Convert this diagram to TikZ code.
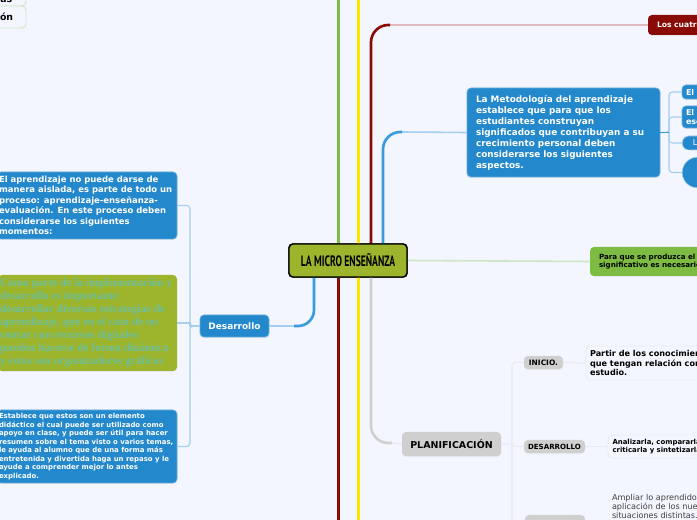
\documentclass[tikz,border=0pt]{standalone}
\usepackage{fontspec}
\setmainfont{DejaVu Sans}
\newfontfamily\titlef[FakeStretch=0.64]{PT Sans}
\newfontfamily\timesf{Liberation Serif}
\usetikzlibrary{shadows}
\definecolor{bgc}{HTML}{F3F6FF}
\definecolor{blueb}{HTML}{2388CC}
\definecolor{bluel}{HTML}{A5CFEE}
\definecolor{bluem}{HTML}{3A9BDC}
\definecolor{oliveb}{HTML}{9DB52C}
\definecolor{redb}{HTML}{8A0B05}
\definecolor{redl}{HTML}{E0B9BF}
\definecolor{greenb}{HTML}{7DBB42}
\definecolor{greenl}{HTML}{CFE6C4}
\definecolor{greyb}{HTML}{CFCFCF}
\definecolor{greyl}{HTML}{E8EBF6}
\definecolor{yell}{HTML}{FFE600}
\definecolor{tealt}{HTML}{6DBE9C}
\tikzset{
  box/.style={rectangle,rounded corners=3pt,inner ysep=0pt,align=flush left,font=\bfseries},
  mid/.style={align=flush center},
  soft/.style={drop shadow={opacity=.12,shadow xshift=0pt,shadow yshift=-.8pt}},
  bluebox/.style={box,soft,fill=blueb,draw=blueb!70!white,line width=.5pt,text=white},
  olivebox/.style={box,soft,fill=oliveb,text=tealt},
  redbox/.style={box,soft,fill=redb,text=white},
  greenbox/.style={box,soft,fill=greenb,text=black},
  greybox/.style={box,soft,fill=greyb,text=black},
  whitebox/.style={box,fill=bgc,draw=greyl,line width=.7pt,text=black},
  paleleaf/.style={box,fill=bgc,draw=greenl,line width=.7pt,text=black},
  plainbox/.style={box,text=black!75,font=\normalfont},
  rootbox/.style={box,fill=oliveb,draw=black,line width=1.1pt,text=black,mid},
  trunk/.style={line width=2pt},
  twig/.style={line width=.9pt,rounded corners=2.5pt},
}
% style, name, x1, y1, x2, y2, padding, text (pixels of the reference)
\newcommand\pxbox[8]{\node[#1,minimum width={(#5-#3)*0.75pt},minimum height={(#6-#4)*0.75pt},
  text width={(#5-#3-2*#7)*0.75pt},inner xsep={#7*0.75pt}] (#2) at ({(#3+#5)/2},{(#4+#6)/2}) {#8\par};}
\begin{document}
\begin{tikzpicture}[x=0.75pt,y=-0.75pt]
\useasboundingbox (0,0) rectangle (697,520);
\clip (0,0) rectangle (697,520);
\fill[bgc] (0,0) rectangle (697,520);

% named free points of the trunks
\coordinate (tg) at (338.5,0);
\coordinate (tr) at (338.5,520);
\coordinate (ty) at (358.5,0);
\coordinate (tyb) at (358.5,520);
\coordinate (bdes) at (190,0);
\coordinate (bmet) at (669,0);
\coordinate (bplan) at (512,0);
\coordinate (bend) at (512,520);

% nodes
\pxbox{rootbox}{root}{289}{244}{407}{277}{1}{\titlef\fontsize{11.3}{13}\selectfont LA MICRO ENSEÑANZA}
\pxbox{bluebox,mid}{des}{200}{315}{269}{337}{1}{\fontsize{6.7}{8}\selectfont Desarrollo}
\pxbox{bluebox}{la}{-3}{172}{177}{239}{2}{\fontsize{6.35}{7.9}\selectfont El aprendizaje no puede darse de\\manera aislada, es parte de todo un\\proceso: aprendizaje-enseñanza-\\evaluación. En este proceso deben\\considerarse los siguientes\\momentos:}
\pxbox{olivebox}{lb}{-2}{275}{177}{371}{2}{\timesf\fontsize{8.5}{9.75}\selectfont Como parte de la implementación y\\desarrollo es importante\\desarrollar diversas estrategias de\\aprendizaje, que en el caso de no\\contar con recursos digitales\\pueden hacerse de forma dinámica\\y estos son organizadores gráficos}
\pxbox{bluebox}{lc}{-3}{410}{177}{483}{2}{\fontsize{5.2}{6.42}\selectfont Establece que estos son un elemento\\didáctico el cual puede ser utilizado como\\apoyo en clase, y puede ser útil para hacer\\resumen sobre el tema visto o varios temas,\\le ayuda al alumno que de una forma más\\entretenida y divertida haga un repaso y le\\ayude a comprender mejor lo antes\\explicado.}
\pxbox{paleleaf}{ta}{-20}{-15}{26}{6}{1}{}
\pxbox{paleleaf}{tb}{-20}{6}{26}{28}{20}{\fontsize{7}{8}\selectfont ón}
\node[font=\bfseries\fontsize{7}{8}\selectfont,anchor=base west,inner sep=0pt] (tc) at (0,3) {as};

\pxbox{redbox}{cuatro}{648}{15}{730}{35}{9}{\fontsize{5.7}{7}\selectfont Los cuatro}
\pxbox{bluebox}{met}{467}{88}{660}{177}{9}{\fontsize{6.65}{8.25}\selectfont La Metodología del aprendizaje\\establece que para que los\\estudiantes construyan\\significados que contribuyan a su\\crecimiento personal deben\\considerarse los siguientes\\aspectos.}
\pxbox{bluebox}{ma}{682}{85}{730}{99}{4}{\fontsize{6}{7}\selectfont El l}
\pxbox{bluebox}{mb}{682}{106}{730}{128}{4}{\fontsize{6}{6.6}\selectfont El e\\esc}
\node[rectangle,rounded corners=5pt,fill=blueb,draw=bluel,line width=.4pt,minimum width=36pt,minimum height=10.5pt,inner sep=0pt,anchor=west,text=white,font=\fontsize{6}{7}\selectfont,text width=30pt,align=flush left] (mc) at (682,143) {\hspace{5pt}L\par};
\node[circle,fill=blueb,draw=bluel,line width=.4pt,minimum size=23pt,inner sep=0pt] (md) at (697.5,172.5) {};
\pxbox{greenbox}{sig}{590}{247}{730}{276}{9}{\fontsize{5.35}{6.1}\selectfont Para que se produzca el a\\significativo es necesario}
\pxbox{greybox,mid}{plan}{402}{432}{501}{456}{1}{\fontsize{7.1}{8}\selectfont PLANIFICACIÓN}
\pxbox{greybox,mid}{ini}{524}{356}{563}{369}{1}{\fontsize{5.6}{7}\selectfont INICIO.}
\pxbox{greybox,mid}{dsr}{524}{440}{585}{453}{1}{\fontsize{5.3}{7}\selectfont DESARROLLO}
\pxbox{greybox}{cie}{525}{515}{585}{545}{1}{}
\pxbox{whitebox}{par}{586}{346}{730}{380}{4}{\fontsize{6.1}{7.3}\selectfont Partir de los conocimien\\que tengan relación con\\estudio.}
\pxbox{whitebox}{ana}{608}{435}{730}{458}{4.5}{\fontsize{5.2}{6.3}\selectfont Analizarla, compararla\\criticarla y sintetizarla}
\pxbox{plainbox}{amp}{608}{492}{730}{521}{4}{\fontsize{6.1}{7.1}\selectfont Ampliar lo aprendido\\aplicación de los nuev\\situaciones distintas.}

% trunks
\draw[trunk,color=greenb] (tg) -- (tg |- root.north);
\draw[trunk,color=redb] (tr) -- (tr |- root.south);
\draw[trunk,color=yell] (ty) -- (tyb);
\draw[line width=2pt,color=redl] (cuatro.west) -- (390,25);
\draw[trunk,color=redb,rounded corners=13pt] (390,25) -- (371,25) -- (371,244);
\draw[line width=1.2pt,color=bluel] (met.west) -- (402,132);
\draw[trunk,color=bluem,rounded corners=13pt] (402,132) -- (383,132) -- (383,244);
\draw[line width=1.2pt,color=greenl] (root.east) -- (sig.west);
\draw[trunk,color=greyb,rounded corners=13pt] (371,277) -- (371,443) -- (392,443);
\draw[line width=1.2pt,color=greyl] (392,443) -- (plan.west);
\draw[trunk,color=bluem,rounded corners=12pt] (314,277) -- (314,326) -- (294,326);
\draw[line width=1.2pt,color=bluel] (294,326) -- (des.east);

% branches
\draw[twig,color=bluel] (des.west) -| (bdes |- la.east) -- (la.east);
\draw[twig,color=bluel] (des.west) -| (bdes |- lc.east) -- (lc.east);
\draw[line width=.9pt,color=bluel] (lb.east) -- (bdes |- lb.east) -- (bdes |- des.west) -- (des.west);
\draw[twig,color=bluel] (met.east) -- (bmet |- met.east) |- (ma.west);
\draw[twig,color=bluel] (bmet |- met.east) |- (mb.west);
\draw[twig,color=bluel] (bmet |- met.east) |- (mc.west);
\draw[twig,color=bluel] (bmet |- met.east) |- (md.west);
\draw[line width=.9pt,color=bluem] (met.east) -- (bmet |- met.east);
\draw[twig,color=greyl] (plan.east) -- (bplan |- plan.east) |- (ini.west);
\draw[twig,color=greyl] (bplan |- plan.east) |- (dsr.west);
\draw[twig,color=greyl] (bplan |- plan.east) -- (bend);
\draw[line width=1pt,color=greyl] (ini.east) -- (par.west);
\draw[line width=1pt,color=greyl] (dsr.east) -- (ana.west);

% repaint the root above the trunks
\pxbox{rootbox}{rootb}{289}{244}{407}{277}{1}{\titlef\fontsize{11.3}{13}\selectfont LA MICRO ENSEÑANZA}
\end{tikzpicture}
\end{document}
